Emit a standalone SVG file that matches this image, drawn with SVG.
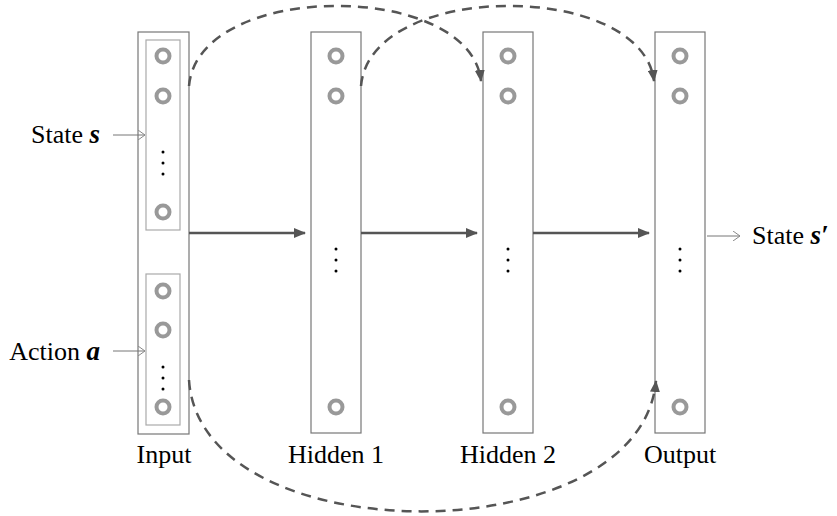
<svg xmlns="http://www.w3.org/2000/svg" width="837" height="516" viewBox="0 0 837 516">
<style>
.col{fill:#fff;stroke:#777;stroke-width:1.2}
.inner{fill:none;stroke:#aaa;stroke-width:1.2}
.n{fill:none;stroke:#999;stroke-width:4}
.d{fill:#000}
.t{font-family:"Liberation Serif",serif;font-size:26px;fill:#000}
.m{font-weight:bold;font-style:italic;font-size:27px}
.solid{stroke:#555;stroke-width:2.5;fill:none}
.dash{stroke:#555;stroke-width:2.5;fill:none;stroke-dasharray:10,7}
.thin{stroke:#777;stroke-width:1;fill:none}
</style>
<defs>
<marker id="ah" markerWidth="12" markerHeight="10" refX="11" refY="5" orient="auto" markerUnits="userSpaceOnUse"><path d="M0,0 L12,5 L0,10 Z" fill="#555"/></marker>
<marker id="oh" markerWidth="8" markerHeight="10" refX="7" refY="5" orient="auto" markerUnits="userSpaceOnUse"><path d="M0,0 L7,5 L0,10" fill="none" stroke="#888" stroke-width="1"/></marker>
</defs>
<g id="input">
<rect class="col" x="138" y="32" width="51" height="402"/>
<rect class="inner" x="146" y="40" width="34" height="190"/>
<rect class="inner" x="146" y="274" width="34" height="151"/>
<circle class="n" cx="163" cy="56" r="6.5"/><circle class="n" cx="163" cy="96" r="6.5"/><circle class="n" cx="163" cy="212" r="6.5"/>
<circle class="n" cx="163" cy="291" r="6.5"/><circle class="n" cx="163" cy="330" r="6.5"/><circle class="n" cx="163" cy="407" r="6.5"/>
<circle class="d" cx="163" cy="152" r="1.5"/><circle class="d" cx="163" cy="163" r="1.5"/><circle class="d" cx="163" cy="174" r="1.5"/>
<circle class="d" cx="163" cy="367" r="1.5"/><circle class="d" cx="163" cy="378" r="1.5"/><circle class="d" cx="163" cy="389" r="1.5"/>
<text class="t" x="164" y="463" text-anchor="middle">Input</text>
</g>
<g id="hidden1">
<rect class="col" x="311" y="32" width="50" height="401"/>
<circle class="n" cx="336" cy="56" r="6.5"/><circle class="n" cx="336" cy="96" r="6.5"/><circle class="n" cx="336" cy="407" r="6.5"/>
<circle class="d" cx="336" cy="249" r="1.5"/><circle class="d" cx="336" cy="260" r="1.5"/><circle class="d" cx="336" cy="271" r="1.5"/>
<text class="t" x="336" y="463" text-anchor="middle">Hidden 1</text>
</g>
<g id="hidden2">
<rect class="col" x="483" y="32" width="50" height="401"/>
<circle class="n" cx="508" cy="56" r="6.5"/><circle class="n" cx="508" cy="96" r="6.5"/><circle class="n" cx="508" cy="407" r="6.5"/>
<circle class="d" cx="508" cy="249" r="1.5"/><circle class="d" cx="508" cy="260" r="1.5"/><circle class="d" cx="508" cy="271" r="1.5"/>
<text class="t" x="508" y="463" text-anchor="middle">Hidden 2</text>
</g>
<g id="output">
<rect class="col" x="655" y="32" width="50" height="401"/>
<circle class="n" cx="680" cy="56" r="6.5"/><circle class="n" cx="680" cy="96" r="6.5"/><circle class="n" cx="680" cy="407" r="6.5"/>
<circle class="d" cx="680" cy="249" r="1.5"/><circle class="d" cx="680" cy="260" r="1.5"/><circle class="d" cx="680" cy="271" r="1.5"/>
<text class="t" x="680" y="463" text-anchor="middle">Output</text>
</g>
<g id="labels">
<text class="t" x="100" y="143" text-anchor="end">State <tspan class="m">s</tspan></text>
<text class="t" x="100" y="360" text-anchor="end">Action <tspan class="m">a</tspan></text>
<text class="t" x="752" y="244">State <tspan class="m">s′</tspan></text>
</g>
<g id="connectors">
<line class="thin" x1="113" y1="135" x2="145" y2="135" marker-end="url(#oh)"/>
<line class="thin" x1="113" y1="351" x2="145" y2="351" marker-end="url(#oh)"/>
<line class="thin" x1="707" y1="236" x2="740" y2="236" marker-end="url(#oh)"/>
<line class="solid" x1="189" y1="233" x2="305" y2="233" marker-end="url(#ah)"/>
<line class="solid" x1="361" y1="233" x2="477" y2="233" marker-end="url(#ah)"/>
<line class="solid" x1="533" y1="233" x2="649" y2="233" marker-end="url(#ah)"/>
<path class="dash" d="M189,86 C198,-20 470,-20 481,81" marker-end="url(#ah)"/>
<path class="dash" d="M361,86 C370,-20 642,-20 654,81" marker-end="url(#ah)"/>
<path class="dash" d="M189,380 C200,555 640,555 656,381" marker-end="url(#ah)"/>
</g>
</svg>
